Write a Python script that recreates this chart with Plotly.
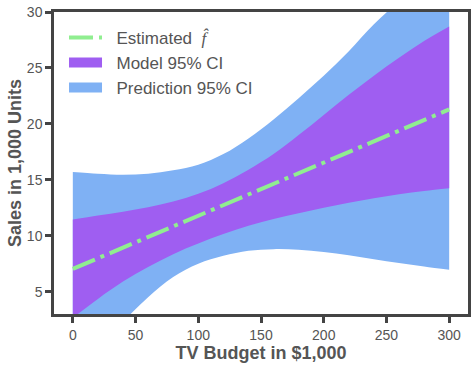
import plotly.graph_objects as go

# ---- data ----
tv_budget = [0, 20, 40, 60, 80, 100, 120, 140, 160, 180, 200, 220, 240, 260, 280, 300]
model_ci_lower = [2.65, 4.35, 5.9, 7.2, 8.35, 9.3, 10.15, 10.9, 11.5, 12.0, 12.5, 12.95, 13.35, 13.7, 14.0, 14.25]
model_ci_upper = [11.45, 11.8, 12.15, 12.55, 13.05, 13.75, 14.7, 15.9, 17.3, 19.0, 20.8, 22.6, 24.3, 25.9, 27.4, 28.7]
pred_ci_lower = [-2.8, -0.2, 2.3, 4.5, 6.3, 7.5, 8.2, 8.65, 8.8, 8.75, 8.55, 8.25, 7.9, 7.55, 7.25, 6.95]
pred_ci_upper = [15.7, 15.55, 15.45, 15.55, 15.85, 16.35, 17.3, 18.7, 20.4, 22.3, 24.3, 26.5, 28.9, 31.0, 33.3, 35.6]
fhat_x = [0, 300]
fhat_y = [7.03, 21.29]

x_ticks = [0, 50, 100, 150, 200, 250, 300]
y_ticks = [5, 10, 15, 20, 25, 30]

BLUE = "#7fb1f4"
PURPLE = "#9f5ef1"
GREEN = "#90ee90"
FRAME = "#444444"
TEXT = "#555555"
FONT = "Liberation Sans, Arial, sans-serif"
PAD = "\u00a0\u00a0"

fig = go.Figure()

# prediction interval
fig.add_trace(go.Scatter(x=tv_budget, y=pred_ci_lower, mode="lines",
                         line=dict(width=0, shape="spline", color=BLUE),
                         showlegend=False, hoverinfo="skip"))
fig.add_trace(go.Scatter(x=tv_budget, y=pred_ci_upper, mode="lines", fill="tonexty",
                         fillcolor=BLUE, line=dict(width=0, shape="spline", color=BLUE),
                         showlegend=False, hoverinfo="skip"))
# model confidence interval
fig.add_trace(go.Scatter(x=tv_budget, y=model_ci_lower, mode="lines",
                         line=dict(width=0, shape="spline", color=PURPLE),
                         showlegend=False, hoverinfo="skip"))
fig.add_trace(go.Scatter(x=tv_budget, y=model_ci_upper, mode="lines", fill="tonexty",
                         fillcolor=PURPLE, line=dict(width=0, shape="spline", color=PURPLE),
                         showlegend=False, hoverinfo="skip"))
# estimated f-hat
fig.add_trace(go.Scatter(x=fhat_x, y=fhat_y, mode="lines",
                         line=dict(color=GREEN, width=4, dash="24px,6px,4px,6px"),
                         name=PAD + 'Estimated\u00a0\u00a0<span style="font-family:Liberation Serif"><i>f\u0302</i></span>',
                         legendrank=1))
# legend proxies for the bands
fig.add_trace(go.Scatter(x=[None], y=[None], mode="lines",
                         line=dict(color=PURPLE, width=11),
                         name=PAD + "Model 95% CI", legendrank=2))
fig.add_trace(go.Scatter(x=[None], y=[None], mode="lines",
                         line=dict(color=BLUE, width=11),
                         name=PAD + "Prediction 95% CI", legendrank=3))

axis_common = dict(
    showgrid=False, zeroline=False, automargin=False,
    showline=True, mirror=True, linecolor=FRAME, linewidth=2.5,
    ticks="outside", ticklen=6, tickwidth=2.5, tickcolor=FRAME,
    tickfont=dict(family=FONT, size=14, color=TEXT),
)

fig.update_xaxes(range=[-15, 315], tickvals=x_ticks,
                 title=dict(text="<b>TV Budget in $1,000</b>", standoff=4,
                            font=dict(family=FONT, size=18, color=TEXT)),
                 **axis_common)
fig.update_yaxes(range=[3.0, 30], tickvals=y_ticks,
                 title=dict(text="<b>Sales in 1,000 Units</b>", standoff=1,
                            font=dict(family=FONT, size=18, color=TEXT)),
                 **axis_common)

fig.update_layout(
    width=474, height=367,
    margin=dict(l=54, r=6, t=12, b=53),
    paper_bgcolor="white", plot_bgcolor="white",
    showlegend=True,
    legend=dict(x=0.0242, y=0.974, xanchor="left", yanchor="top",
                traceorder="normal",
                bgcolor="rgba(0,0,0,0)", borderwidth=0,
                itemwidth=33,
                font=dict(family=FONT, size=17, color=TEXT)),
)

fig.write_html("out.html", config={"displayModeBar": False},
               post_script="document.body.style.margin='0';document.body.style.padding='0';")
